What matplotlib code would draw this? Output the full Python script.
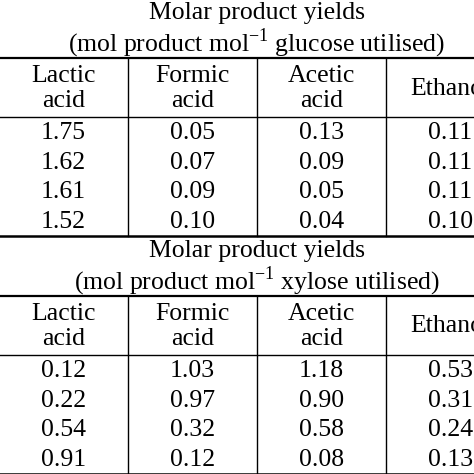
import matplotlib.pyplot as plt

# Table contents
columns = ["Lactic\nacid", "Formic\nacid", "Acetic\nacid", "Ethanol"]
glucose_rows = [
    ["1.75", "0.05", "0.13", "0.11"],
    ["1.62", "0.07", "0.09", "0.11"],
    ["1.61", "0.09", "0.05", "0.11"],
    ["1.52", "0.10", "0.04", "0.10"],
]
xylose_rows = [
    ["0.12", "1.03", "1.18", "0.53"],
    ["0.22", "0.97", "0.90", "0.31"],
    ["0.54", "0.32", "0.58", "0.24"],
    ["0.91", "0.12", "0.08", "0.13"],
]
titles = [
    "Molar product yields\n(mol product mol$^{\\mathregular{-1}}$ glucose utilised)",
    "Molar product yields\n(mol product mol$^{\\mathregular{-1}}$ xylose utilised)",
]

plt.rcParams["font.family"] = ["Liberation Serif", "DejaVu Serif"]
plt.rcParams["mathtext.fontset"] = "custom"
plt.rcParams["mathtext.rm"] = "Liberation Serif"

fig = plt.figure(figsize=(4.74, 4.74), dpi=100)
ax = fig.add_axes([0, 0, 1, 1])
ax.set_xlim(0, 474)
ax.set_ylim(474, 0)
ax.axis("off")

col_w = 129
col_x0 = -1
fs = 18.5


def draw_block(y0, title, rows):
    # title
    ax.text(257, y0 + 31, title, ha="center", va="center", fontsize=fs,
            linespacing=1.12)
    top = y0 + 58
    head_bot = y0 + 117
    row_h = 29.5
    bottom = head_bot + row_h * len(rows) + 1
    ax.plot([0, 474], [top, top], color="black", lw=1.6)
    ax.plot([0, 474], [head_bot, head_bot], color="black", lw=1.0)
    ax.plot([0, 474], [bottom, bottom], color="black", lw=1.8)
    for j in range(1, len(columns)):
        x = col_x0 + j * col_w
        ax.plot([x, x], [top, bottom], color="black", lw=1.0)
    for j, name in enumerate(columns):
        cx = col_x0 + j * col_w + col_w / 2
        ax.text(cx, (top + head_bot) / 2 + 1, name, ha="center", va="center",
                fontsize=fs, linespacing=1.12)
        for i, row in enumerate(rows):
            ax.text(cx, head_bot + row_h * (i + 0.55), row[j], ha="center",
                    va="center", fontsize=fs)
    return bottom


draw_block(0, titles[0], glucose_rows)
draw_block(238, titles[1], xylose_rows)

fig.savefig("out.png", dpi=100)
